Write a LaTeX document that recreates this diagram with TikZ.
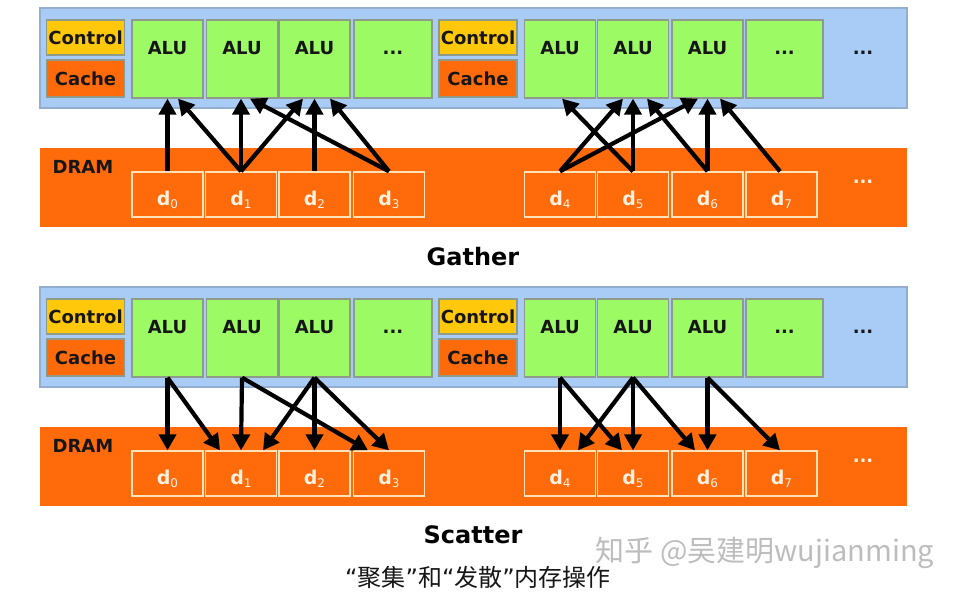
\documentclass[tikz,border=0pt]{standalone}
\usepackage{fontspec}
\setmainfont{DejaVu Sans}
\newfontfamily\cjk{Noto Sans CJK SC}
\usetikzlibrary{arrows.meta,calc}
\definecolor{panelblue}{HTML}{A8CCF5}
\definecolor{panelline}{HTML}{93AECF}
\definecolor{alugreen}{HTML}{9CFB64}
\definecolor{boxline}{HTML}{8E9A8A}
\definecolor{ctrlyellow}{HTML}{FFC80A}
\definecolor{cacheorange}{HTML}{FF6A0A}
\definecolor{dramorange}{HTML}{FF6A0A}
\definecolor{dline}{HTML}{FFE2B8}
\definecolor{dtext}{HTML}{FFF1E0}
\definecolor{inktext}{HTML}{161616}
\definecolor{wmark}{HTML}{BDBDBD}
\newcommand\dlab[1]{d\raisebox{-2.5pt}{\fontsize{12}{12}\selectfont\mdseries #1}}
\newcommand\cpupanel[1]{%
  \node[panelbox] (#1panel) at (473.5,58) {};
  \node[ctrlbox] (#1ctlA) at (85.5,37.5) {Control};
  \node[cachebox] (#1cacA) at (85.5,78.5) {Cache};
  \node[alubox] (#1a1) at (167.5,59) {ALU};
  \node[alubox] (#1a2) at (242,59) {ALU};
  \node[alubox] (#1a3) at (314.5,59) {ALU};
  \node[alubox,minimum width=78pt] (#1aX) at (393,59) {...};
  \node[ctrlbox] (#1ctlB) at (478,37.5) {Control};
  \node[cachebox] (#1cacB) at (478,78.5) {Cache};
  \node[alubox] (#1a4) at (560,59) {ALU};
  \node[alubox] (#1a5) at (633,59) {ALU};
  \node[alubox] (#1a6) at (707.5,59) {ALU};
  \node[alubox,minimum width=77pt] (#1aY) at (784.5,59) {...};
  \node[dotstext] (#1pdots) at (863,53) {...};
  \node[drambox] (#1dram) at (473.5,187.5) {};
  \node[dramlabel] (#1dramlbl) at (83,167) {DRAM};
  \node[dbox] (#1d0) at (167.5,194.5) {\dlab{0}};
  \node[dbox] (#1d1) at (241,194.5) {\dlab{1}};
  \node[dbox] (#1d2) at (314.5,194.5) {\dlab{2}};
  \node[dbox] (#1d3) at (389,194.5) {\dlab{3}};
  \node[dbox] (#1d4) at (560,194.5) {\dlab{4}};
  \node[dbox] (#1d5) at (633,194.5) {\dlab{5}};
  \node[dbox] (#1d6) at (707.5,194.5) {\dlab{6}};
  \node[dbox] (#1d7) at (781.5,194.5) {\dlab{7}};
  \node[dotstext,text=dtext] (#1ddots) at (863,182) {...};
}
\begin{document}
\begin{tikzpicture}[x=1pt,y=-1pt,
  panelbox/.style={draw=panelline,line width=1.6pt,fill=panelblue,minimum width=867pt,minimum height=100pt,inner sep=0pt},
  ctrlbox/.style={draw=boxline,line width=1.2pt,fill=ctrlyellow,minimum width=78pt,minimum height=35pt,inner sep=0pt,font=\fontsize{18}{20}\selectfont\bfseries,text=inktext},
  cachebox/.style={ctrlbox,fill=cacheorange,minimum height=37pt},
  alubox/.style={draw=boxline,line width=1.2pt,fill=alugreen,minimum width=71pt,minimum height=78pt,inner sep=0pt,font=\fontsize{18}{20}\selectfont\bfseries,text=inktext,text height=13pt,text depth=22pt},
  dotstext/.style={inner sep=0pt,font=\fontsize{18}{20}\selectfont\bfseries,text=inktext},
  drambox/.style={fill=dramorange,draw=none,minimum width=867pt,minimum height=79pt,inner sep=0pt},
  dramlabel/.style={inner sep=0pt,font=\fontsize{18}{20}\selectfont\bfseries,text=inktext},
  dbox/.style={draw=dline,line width=1.3pt,minimum width=71pt,minimum height=45pt,inner sep=0pt,font=\fontsize{19}{21}\selectfont\bfseries,text=dtext,text height=24pt,text depth=2pt},
  arr/.style={line width=4.2pt,-{Triangle[length=16pt,width=17pt]}},
  title/.style={inner sep=0pt,font=\fontsize{24}{28}\selectfont\bfseries,text=black}]
\useasboundingbox[fill=white] (0,0) rectangle (963,598);
% Gather panel
\cpupanel{g}
% Scatter panel
\begin{scope}[yshift=-279pt]
\cpupanel{s}
\end{scope}
% Gather arrows
\draw[arr] (gd0.north) -- (ga1.south);
\draw[arr] (gd1.north) -- ([xshift=10.5pt]ga1.south);
\draw[arr] (gd1.north) -- ([xshift=-1pt]ga2.south);
\draw[arr] (gd1.north) -- ([xshift=-11.5pt]ga3.south);
\draw[arr] (gd2.north) -- (ga3.south);
\draw[arr] (gd3.north) -- ([xshift=8pt]ga2.south);
\draw[arr] (gd3.north) -- ([xshift=15.5pt]ga3.south);
\draw[arr] (gd4.north) -- ([xshift=-10pt]ga5.south);
\draw[arr] (gd4.north) -- ([xshift=-9.5pt]ga6.south);
\draw[arr] (gd5.north) -- ([xshift=2pt]ga4.south);
\draw[arr] (gd5.north) -- (ga5.south);
\draw[arr] (gd6.north) -- ([xshift=14pt]ga5.south);
\draw[arr] (gd6.north) -- (ga6.south);
\draw[arr] ([xshift=-1.5pt]gd7.north) -- ([xshift=12.5pt]ga6.south);
% Scatter arrows
\draw[arr] (sa1.south) -- (sd0.north);
\draw[arr] (sa1.south) -- ([xshift=-21pt]sd1.north);
\draw[arr] (sa2.south) -- (sd1.north);
\draw[arr] (sa2.south) -- ([xshift=-21pt]sd3.north);
\draw[arr] (sa3.south) -- ([xshift=22pt]sd1.north);
\draw[arr] (sa3.south) -- (sd2.north);
\draw[arr] (sa3.south) -- (sd3.north);
\draw[arr] (sa4.south) -- (sd4.north);
\draw[arr] (sa4.south) -- ([xshift=-11pt]sd5.north);
\draw[arr] (sa5.south) -- ([xshift=18pt]sd4.north);
\draw[arr] (sa5.south) -- (sd5.north);
\draw[arr] (sa5.south) -- ([xshift=-12.5pt]sd6.north);
\draw[arr] (sa6.south) -- (sd6.north);
\draw[arr] (sa6.south) -- ([xshift=-1.5pt]sd7.north);
% titles
\node[title] (gathertitle) at (473,257) {Gather};
\node[title] (scattertitle) at (473,535) {Scatter};
\node[inner sep=0pt,font=\fontsize{24}{28}\selectfont,text=inktext] (caption) at (478,577) {“{\cjk 聚集}”{\cjk 和}“{\cjk 发散}”{\cjk 内存操作}};
\node[inner sep=0pt,font=\cjk\fontsize{29}{32}\selectfont,text=wmark] (watermark) at (765,553) {知乎 @吴建明wujianming};
\end{tikzpicture}
\end{document}
